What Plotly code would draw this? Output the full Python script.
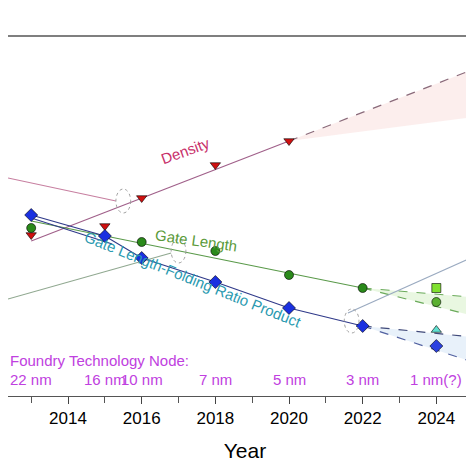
import plotly.graph_objects as go

# y values are in arbitrary units (0 = x-axis, up positive)
den_years = [2013, 2015, 2016, 2018, 2020]
den_vals = [161, 170, 198, 231, 255]
den_line_x = [2013, 2020]; den_line_y = [155, 255]
den_proj_x = [2020, 2025.24]; den_proj_y = [255, 330]
den_band_lo = [255, 280]
den_old_x = [2012.37, 2015.3]; den_old_y = [218, 195]

glfr_years = [2013, 2015, 2016, 2018, 2020, 2022]
glfr_vals = [181, 160, 138, 114, 88, 70]
glfr_proj_x = [2022, 2025.24]
glfr_proj_hi = [70, 58]; glfr_proj_lo = [70, 31]
glfr_2024_tri = 66; glfr_2024_dia = 50
glfr_old_x = [2021.6, 2025.24]; glfr_old_y = [83, 143]

gl_years = [2013, 2016, 2018, 2020, 2022]
gl_vals = [168, 154, 145, 121, 108]
gl_line_x = [2013, 2022]; gl_line_y = [175, 108]
gl_proj_hi = [108, 98]; gl_proj_lo = [108, 78]
gl_2024_sq = 108; gl_2024_circ = 94
gl_old_x = [2012.37, 2016.8]; gl_old_y = [97, 143]

node_years = [2013, 2015, 2016, 2018, 2020, 2022, 2024]
node_labels = ["22 nm", "16 nm", "10 nm", "7 nm", "5 nm", "3 nm", "1 nm(?)"]

fig = go.Figure()
def line(x, y, color, dash="solid", width=1.2):
    fig.add_trace(go.Scatter(x=x, y=y, mode="lines", line=dict(color=color, dash=dash, width=width), hoverinfo="skip"))
def band(x, lo, hi, color):
    fig.add_trace(go.Scatter(x=x, y=lo, mode="lines", line=dict(width=0), hoverinfo="skip"))
    fig.add_trace(go.Scatter(x=x, y=hi, mode="lines", line=dict(width=0), fill="tonexty", fillcolor=color, hoverinfo="skip"))

band(den_proj_x, den_band_lo, den_proj_y, "rgba(245,200,195,0.3)")
band(glfr_proj_x, glfr_proj_lo, glfr_proj_hi, "rgba(190,215,240,0.35)")
band(glfr_proj_x, gl_proj_lo, gl_proj_hi, "rgba(200,235,180,0.4)")

line(den_old_x, den_old_y, "#c77fa0")
line(den_line_x, den_line_y, "#a0608a")
line(den_proj_x, den_proj_y, "#8a6a7a", "dash")
line(gl_old_x, gl_old_y, "#90a890")
line(gl_line_x, gl_line_y, "#5a9a4a")
line(glfr_proj_x, gl_proj_hi, "#6aaa5a", "dash")
line(glfr_proj_x, gl_proj_lo, "#6aaa5a", "dash")
line(glfr_old_x, glfr_old_y, "#9aaac0")
line(glfr_years, glfr_vals, "#303a8a")
line([2013, 2015.2], [178, 152], "#303a8a")
line(glfr_proj_x, glfr_proj_hi, "#404a7a", "dash")
line(glfr_proj_x, glfr_proj_lo, "#5060a0", "dash")

mk = dict(line=dict(color="black", width=0.6))
fig.add_trace(go.Scatter(x=den_years, y=den_vals, mode="markers", marker=dict(symbol="triangle-down", size=9, color="#d01010", **mk)))
fig.add_trace(go.Scatter(x=gl_years, y=gl_vals, mode="markers", marker=dict(symbol="circle", size=9, color="#2a8a1a", **mk)))
fig.add_trace(go.Scatter(x=[2024], y=[gl_2024_circ], mode="markers", marker=dict(symbol="circle", size=9, color="#5ab030", **mk)))
fig.add_trace(go.Scatter(x=[2024], y=[gl_2024_sq], mode="markers", marker=dict(symbol="square", size=9, color="#80e030", **mk)))
fig.add_trace(go.Scatter(x=glfr_years, y=glfr_vals, mode="markers", marker=dict(symbol="diamond", size=10, color="#1a30e0", **mk)))
fig.add_trace(go.Scatter(x=[2024], y=[glfr_2024_dia], mode="markers", marker=dict(symbol="diamond", size=10, color="#2a40e0", **mk)))
fig.add_trace(go.Scatter(x=[2024], y=[glfr_2024_tri], mode="markers", marker=dict(symbol="triangle-up", size=9, color="#60e0d0", **mk)))

for (cx, cy) in [(2015.5, 195), (2017.0, 145), (2021.7, 75)]:
    fig.add_shape(type="circle", x0=cx - 0.2, x1=cx + 0.2, y0=cy - 12, y1=cy + 12,
                  line=dict(color="#a0a0a0", dash="dot", width=1))

fig.add_annotation(x=2017.2, y=246, text="Density", showarrow=False, textangle=-20,
                   font=dict(color="#c8306a", size=15, family="Arial"))
fig.add_annotation(x=2017.5, y=156, text="Gate Length", showarrow=False, textangle=8,
                   font=dict(color="#5a9a3a", size=15, family="Arial"))
fig.add_annotation(x=2017.4, y=117, text="Gate Length-Folding Ratio Product", showarrow=False, textangle=22,
                   font=dict(color="#2a9ab0", size=15, family="Arial"))
fig.add_annotation(x=2012.37, y=36, text="Foundry Technology Node:", showarrow=False, xanchor="left",
                   font=dict(color="#c040e0", size=15, family="Arial"))
for yr, lb in zip(node_years, node_labels):
    fig.add_annotation(x=yr, y=17, text=lb, showarrow=False, font=dict(color="#c040e0", size=15, family="Arial"))

fig.update_layout(width=474, height=474, margin=dict(l=0, r=0, t=28, b=86, autoexpand=False),
                  plot_bgcolor="white", paper_bgcolor="white", showlegend=False)
fig.update_xaxes(range=[2012.37, 2025.24], tickvals=[2012, 2014, 2016, 2018, 2020, 2022, 2024],
                 ticks="outside", ticklen=7, showgrid=False, showline=True, linecolor="#555", mirror=False,
                 minor=dict(dtick=1, ticks="outside", ticklen=6, tickcolor="#555"),
                 tickfont=dict(size=17, family="Arial", color="black"),
                 title=dict(text="Year", font=dict(size=21, family="Arial", color="black")), zeroline=False)
fig.update_yaxes(range=[0, 360], showticklabels=False, showgrid=False, zeroline=False, showline=False)
fig.add_shape(type="line", xref="paper", yref="paper", x0=0, x1=1, y0=1, y1=1, line=dict(color="#555", width=1.5))
fig.write_html("out.html")
